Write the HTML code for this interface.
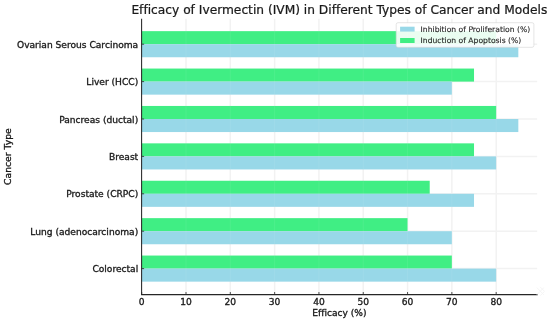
<!DOCTYPE html>
<html lang="en"><head><meta charset="utf-8"><title>Efficacy of Ivermectin (IVM)</title>
<style>html,body{margin:0;padding:0;background:#fff}svg{display:block}text{font-family:"DejaVu Sans","Liberation Sans",sans-serif;fill:#1a1a1a;stroke:#1a1a1a;stroke-width:0.33px;font-variant-ligatures:none;font-kerning:normal}text.tt{stroke-width:0.24px}text.lg{fill:#262626;stroke:#262626;stroke-width:0.12px}</style></head>
<body>
<svg width="550" height="323" viewBox="0 0 550 323">
<rect width="550" height="323" fill="#fff"/>
<g stroke="#f2f2f2" stroke-width="1.5">
<line x1="186.01" y1="18.80" x2="186.01" y2="294.40"/>
<line x1="230.32" y1="18.80" x2="230.32" y2="294.40"/>
<line x1="274.63" y1="18.80" x2="274.63" y2="294.40"/>
<line x1="318.94" y1="18.80" x2="318.94" y2="294.40"/>
<line x1="363.25" y1="18.80" x2="363.25" y2="294.40"/>
<line x1="407.56" y1="18.80" x2="407.56" y2="294.40"/>
<line x1="451.87" y1="18.80" x2="451.87" y2="294.40"/>
<line x1="496.18" y1="18.80" x2="496.18" y2="294.40"/>
<line x1="141.70" y1="44.20" x2="537.17" y2="44.20"/>
<line x1="141.70" y1="81.60" x2="537.17" y2="81.60"/>
<line x1="141.70" y1="119.00" x2="537.17" y2="119.00"/>
<line x1="141.70" y1="156.40" x2="537.17" y2="156.40"/>
<line x1="141.70" y1="193.80" x2="537.17" y2="193.80"/>
<line x1="141.70" y1="231.20" x2="537.17" y2="231.20"/>
<line x1="141.70" y1="268.60" x2="537.17" y2="268.60"/>
</g>
<rect x="141.70" y="31.15" width="354.48" height="13.05" fill="#40ee84"/>
<rect x="141.70" y="44.20" width="376.63" height="13.05" fill="#98d8e8"/>
<rect x="141.70" y="68.55" width="332.32" height="13.05" fill="#40ee84"/>
<rect x="141.70" y="81.60" width="310.17" height="13.05" fill="#98d8e8"/>
<rect x="141.70" y="105.95" width="354.48" height="13.05" fill="#40ee84"/>
<rect x="141.70" y="119.00" width="376.63" height="13.05" fill="#98d8e8"/>
<rect x="141.70" y="143.35" width="332.32" height="13.05" fill="#40ee84"/>
<rect x="141.70" y="156.40" width="354.48" height="13.05" fill="#98d8e8"/>
<rect x="141.70" y="180.75" width="288.01" height="13.05" fill="#40ee84"/>
<rect x="141.70" y="193.80" width="332.32" height="13.05" fill="#98d8e8"/>
<rect x="141.70" y="218.15" width="265.86" height="13.05" fill="#40ee84"/>
<rect x="141.70" y="231.20" width="310.17" height="13.05" fill="#98d8e8"/>
<rect x="141.70" y="255.55" width="310.17" height="13.05" fill="#40ee84"/>
<rect x="141.70" y="268.60" width="354.48" height="13.05" fill="#98d8e8"/>
<g stroke="#ffffff" stroke-opacity="0.07" stroke-width="1">
<line x1="186.01" y1="18.80" x2="186.01" y2="294.40"/>
<line x1="230.32" y1="18.80" x2="230.32" y2="294.40"/>
<line x1="274.63" y1="18.80" x2="274.63" y2="294.40"/>
<line x1="318.94" y1="18.80" x2="318.94" y2="294.40"/>
<line x1="363.25" y1="18.80" x2="363.25" y2="294.40"/>
<line x1="407.56" y1="18.80" x2="407.56" y2="294.40"/>
<line x1="451.87" y1="18.80" x2="451.87" y2="294.40"/>
<line x1="496.18" y1="18.80" x2="496.18" y2="294.40"/>
</g>
<g stroke="#262626" stroke-width="1.05" fill="none">
<line x1="141.60" y1="18.80" x2="141.60" y2="295.05"/>
<line x1="141.10" y1="294.62" x2="537.77" y2="294.62"/>
<line x1="141.70" y1="294.40" x2="141.70" y2="292.00" stroke-width="0.8"/>
<line x1="186.01" y1="294.40" x2="186.01" y2="292.00" stroke-width="0.8"/>
<line x1="230.32" y1="294.40" x2="230.32" y2="292.00" stroke-width="0.8"/>
<line x1="274.63" y1="294.40" x2="274.63" y2="292.00" stroke-width="0.8"/>
<line x1="318.94" y1="294.40" x2="318.94" y2="292.00" stroke-width="0.8"/>
<line x1="363.25" y1="294.40" x2="363.25" y2="292.00" stroke-width="0.8"/>
<line x1="407.56" y1="294.40" x2="407.56" y2="292.00" stroke-width="0.8"/>
<line x1="451.87" y1="294.40" x2="451.87" y2="292.00" stroke-width="0.8"/>
<line x1="496.18" y1="294.40" x2="496.18" y2="292.00" stroke-width="0.8"/>
<line x1="141.70" y1="44.20" x2="144.10" y2="44.20" stroke-width="0.8"/>
<line x1="141.70" y1="81.60" x2="144.10" y2="81.60" stroke-width="0.8"/>
<line x1="141.70" y1="119.00" x2="144.10" y2="119.00" stroke-width="0.8"/>
<line x1="141.70" y1="156.40" x2="144.10" y2="156.40" stroke-width="0.8"/>
<line x1="141.70" y1="193.80" x2="144.10" y2="193.80" stroke-width="0.8"/>
<line x1="141.70" y1="231.20" x2="144.10" y2="231.20" stroke-width="0.8"/>
<line x1="141.70" y1="268.60" x2="144.10" y2="268.60" stroke-width="0.8"/>
</g>
<g font-size="9.1" text-anchor="middle">
<text x="141.70" y="305.00">0</text>
<text x="186.01" y="305.00">10</text>
<text x="230.32" y="305.00">20</text>
<text x="274.63" y="305.00">30</text>
<text x="318.94" y="305.00">40</text>
<text x="363.25" y="305.00">50</text>
<text x="407.56" y="305.00">60</text>
<text x="451.87" y="305.00">70</text>
<text x="496.18" y="305.00">80</text>
</g>
<g font-size="9.1" text-anchor="end">
<text x="138.20" y="47.85">Ovarian Serous Carcinoma</text>
<text x="138.20" y="85.25">Liver (HCC)</text>
<text x="138.20" y="122.65">Pancreas (ductal)</text>
<text x="138.20" y="160.05">Breast</text>
<text x="138.20" y="197.45">Prostate (CRPC)</text>
<text x="138.20" y="234.85">Lung (adenocarcinoma)</text>
<text x="138.20" y="272.25">Colorectal</text>
</g>
<text x="339.43" y="316.20" font-size="9.1" text-anchor="middle">Efficacy (%)</text>
<text transform="translate(11.20 156.60) rotate(-90)" font-size="9.25" text-anchor="middle">Cancer Type</text>
<text x="131.40" y="14.35" class="tt" font-size="12.22" text-anchor="start">Efficacy of Ivermectin (IVM) in Different Types of Cancer and Models</text>
<g stroke="#f4f4f4" stroke-width="0.9" fill="none"><path d="M536.8 287.6 L543.8 294.8 M540 286.8 L544.4 291.2 M543.8 287.6 L536.8 294.8 M544.4 291.4 L540.4 295.6"/></g>
<rect x="396.2" y="22.7" width="137.7" height="24.6" rx="1.8" ry="1.8" fill="#fff" fill-opacity="0.89" stroke="#d6d6d6" stroke-opacity="0.8" stroke-width="0.8"/>
<rect x="400.1" y="26.7" width="14.5" height="4.9" fill="#98d8e8"/>
<rect x="400.1" y="38.0" width="14.5" height="5.0" fill="#40ee84"/>
<g font-size="7.64">
<text class="lg" x="420.6" y="32">Inhibition of Proliferation (%)</text>
<text class="lg" x="420.6" y="43">Induction of Apoptosis (%)</text>
</g>
</svg>
</body></html>
